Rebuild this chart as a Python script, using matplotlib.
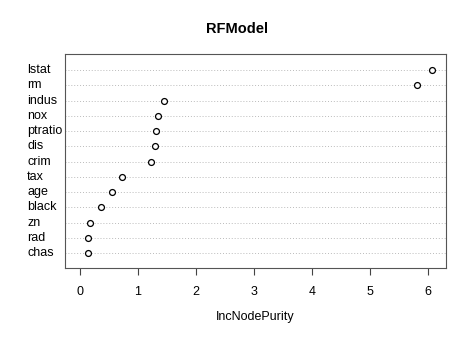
import matplotlib
matplotlib.use("Agg")
import matplotlib.pyplot as plt
import matplotlib.transforms as mtransforms

variables = ["lstat", "rm", "indus", "nox", "ptratio", "dis", "crim",
             "tax", "age", "black", "zn", "rad", "chas"]
purity = [6.06, 5.80, 1.45, 1.35, 1.32, 1.29, 1.22,
          0.72, 0.55, 0.37, 0.17, 0.14, 0.14]
xticks = [0, 1, 2, 3, 4, 5, 6]

plt.rcParams['font.family'] = ['Liberation Sans', 'DejaVu Sans']

fig = plt.figure(figsize=(4.74, 3.38), dpi=100)
ax = fig.add_axes([0.1378, 0.2062, 0.8025, 0.6340])

n = len(variables)
ypos = list(range(n, 0, -1))

for y in ypos:
    ax.axhline(y, color='#bbbbbb', linestyle=(0, (1, 2)), linewidth=0.7, zorder=1)

ax.scatter(purity, ypos, s=18, facecolors='white', edgecolors='black',
           linewidths=0.9, zorder=3)

ax.set_xlim(-0.25, 6.30)
ax.set_ylim(0, 14.05)
ax.set_yticks([])
ax.set_xticks(xticks)
ax.tick_params(axis='x', direction='out', length=5, width=0.8,
               labelsize=9, pad=8, color='#444444')

for spine in ax.spines.values():
    spine.set_color('#555555')
    spine.set_linewidth(0.8)

trans = mtransforms.blended_transform_factory(fig.transFigure, ax.transData)
for name, y in zip(variables, ypos):
    ax.text(27 / 474, y, name, transform=trans, ha='left', va='center',
            fontsize=9)

ax.set_xlabel("IncNodePurity", fontsize=9, labelpad=9)
fig.text(0.5, 1 - 29 / 338, "RFModel", ha='center', va='center',
         fontsize=10.5, fontweight='bold')

fig.savefig("out.png", dpi=100)
